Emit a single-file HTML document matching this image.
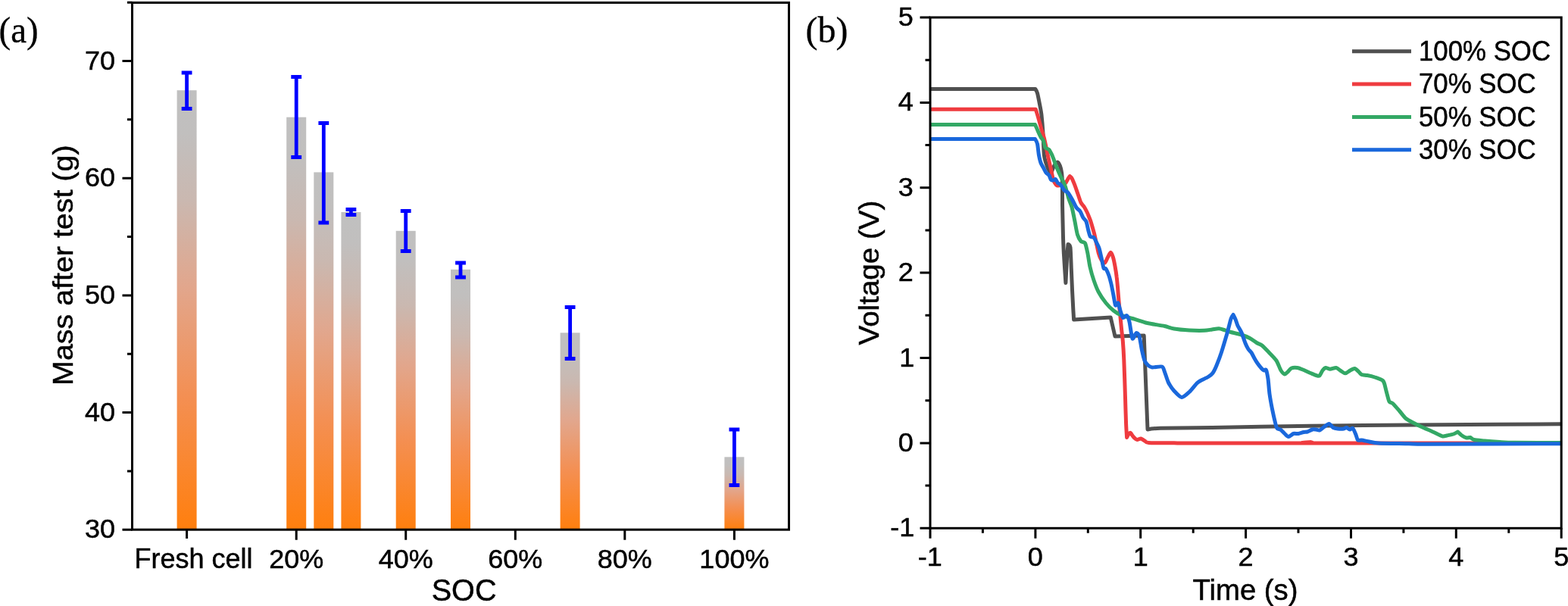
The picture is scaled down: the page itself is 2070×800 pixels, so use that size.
<!DOCTYPE html>
<html lang="en">
<head>
<meta charset="utf-8">
<title>Figure</title>
<style>
html,body{margin:0;padding:0;background:#fff;}
body{width:2070px;height:800px;overflow:hidden;}
svg{display:block;}
.s{font-family:"Liberation Sans", sans-serif;fill:#000;stroke:#000;stroke-width:0.5;}
.f{font-family:"Liberation Serif", serif;fill:#000;stroke:#000;stroke-width:0.3;}
.ax{stroke:#000;stroke-width:3;fill:none;stroke-linecap:butt;}
.ln{fill:none;stroke-width:5;stroke-linejoin:round;stroke-linecap:butt;}
.eb{stroke:#0000ff;stroke-width:4.8;fill:none;}
</style>
</head>
<body>
<svg role="img" aria-label="Mass after test versus SOC, and voltage versus time" width="2070" height="800" viewBox="0 0 2070 800">
<defs>
<linearGradient id="g" x1="0" y1="0" x2="0" y2="1">
<stop offset="0" stop-color="#c0c0c0"/>
<stop offset="0.1" stop-color="#c1bfbe"/>
<stop offset="0.25" stop-color="#cab8b0"/>
<stop offset="0.45" stop-color="#e2a68c"/>
<stop offset="0.7" stop-color="#f48f52"/>
<stop offset="1" stop-color="#ff7f0e"/>
</linearGradient>
</defs>
<rect width="2070" height="800" fill="#fff"/>
<g id="chart-a">
<rect x="233.6" y="119.2" width="26.0" height="580.0" fill="url(#g)"/>
<rect x="378.2" y="154.7" width="26.0" height="544.5" fill="url(#g)"/>
<rect x="414.3" y="227.4" width="26.0" height="471.8" fill="url(#g)"/>
<rect x="450.4" y="280.0" width="26.0" height="419.2" fill="url(#g)"/>
<rect x="522.7" y="304.8" width="26.0" height="394.4" fill="url(#g)"/>
<rect x="595.0" y="355.8" width="26.0" height="343.4" fill="url(#g)"/>
<rect x="739.6" y="439.3" width="26.0" height="259.9" fill="url(#g)"/>
<rect x="956.4" y="603.3" width="26.0" height="95.9" fill="url(#g)"/>
<path class="eb" d="M246.6,96.0 V143.5 M239.7,96.0 H253.5 M239.7,143.5 H253.5"/>
<path class="eb" d="M391.2,101.5 V207.5 M384.3,101.5 H398.1 M384.3,207.5 H398.1"/>
<path class="eb" d="M427.3,162.5 V294.0 M420.4,162.5 H434.2 M420.4,294.0 H434.2"/>
<path class="eb" d="M463.4,276.5 V283.5 M456.5,276.5 H470.3 M456.5,283.5 H470.3"/>
<path class="eb" d="M535.7,278.5 V331.5 M528.8,278.5 H542.6 M528.8,331.5 H542.6"/>
<path class="eb" d="M608.0,347.0 V366.0 M601.1,347.0 H614.9 M601.1,366.0 H614.9"/>
<path class="eb" d="M752.6,405.5 V473.5 M745.7,405.5 H759.5 M745.7,473.5 H759.5"/>
<path class="eb" d="M969.4,567.0 V640.5 M962.5,567.0 H976.3 M962.5,640.5 H976.3"/>
<rect class="ax" x="174.5" y="3.5" width="867.0" height="695.7"/>
<path class="ax" d="M174.5,699.2 H161.5 M174.5,621.9 H168.0 M174.5,544.5 H161.5 M174.5,467.2 H168.0 M174.5,389.9 H161.5 M174.5,312.5 H168.0 M174.5,235.2 H161.5 M174.5,157.8 H168.0 M174.5,80.5 H161.5 M174.5,3.2 H168.0 M246.6,699.2 V711.0 M391.2,699.2 V712.7 M535.7,699.2 V712.7 M680.3,699.2 V712.7 M824.8,699.2 V712.7 M969.4,699.2 V712.7"/>
<text class="s" transform="translate(152.00,710.30) scale(1.0141,1)" font-size="35.5" text-anchor="end">30</text>
<text class="s" transform="translate(152.00,555.63) scale(1.0141,1)" font-size="35.5" text-anchor="end">40</text>
<text class="s" transform="translate(152.00,400.95) scale(1.0141,1)" font-size="35.5" text-anchor="end">50</text>
<text class="s" transform="translate(152.00,246.28) scale(1.0141,1)" font-size="35.5" text-anchor="end">60</text>
<text class="s" transform="translate(152.00,91.60) scale(1.0141,1)" font-size="35.5" text-anchor="end">70</text>
<text class="s" transform="translate(255.50,750.40) scale(0.9917,1)" font-size="36.3" text-anchor="middle">Fresh cell</text>
<text class="s" transform="translate(391.16,750.40) scale(1.0084,1)" font-size="35.7" text-anchor="middle">20%</text>
<text class="s" transform="translate(535.72,750.40) scale(1.0084,1)" font-size="35.7" text-anchor="middle">40%</text>
<text class="s" transform="translate(680.28,750.40) scale(1.0084,1)" font-size="35.7" text-anchor="middle">60%</text>
<text class="s" transform="translate(824.84,750.40) scale(1.0084,1)" font-size="35.7" text-anchor="middle">80%</text>
<text class="s" transform="translate(969.40,750.40) scale(1.0084,1)" font-size="35.7" text-anchor="middle">100%</text>
<text class="s" transform="translate(612.60,793.00) scale(0.9588,1)" font-size="41.3" text-anchor="middle">SOC</text>
<text class="s" transform="translate(95.70,350.20) rotate(-90) scale(1.0479,1)" font-size="37.6" text-anchor="middle">Mass after test (g)</text>
<text class="f" transform="translate(-1.50,55.60) scale(0.9691,1)" font-size="48.5" text-anchor="start">(a)</text>
</g>
<g id="chart-b">
<clipPath id="cb"><rect x="1228.0" y="23.0" width="833.2" height="674.3"/></clipPath>
<g clip-path="url(#cb)">
<path class="ln" stroke="#505050" d="M1226.0,117.5 L1366.8,117.5 C1366.8,117.5 1368.8,120.5 1369.5,123.0 C1370.2,125.5 1371.8,133.9 1372.5,137.5 C1373.2,141.1 1374.5,147.3 1375.0,152.0 C1375.5,156.7 1376.6,170.0 1376.9,175.0 C1377.2,180.0 1377.4,188.2 1377.6,192.0 C1377.8,195.8 1378.1,202.4 1378.4,205.0 C1378.7,207.6 1379.5,210.8 1380.0,212.5 C1380.5,214.2 1381.5,217.1 1382.0,218.5 C1382.5,219.9 1383.3,222.3 1384.0,223.5 C1384.7,224.7 1386.8,228.1 1387.5,228.0 C1388.2,227.9 1389.3,223.9 1390.0,222.5 C1390.7,221.1 1392.2,217.6 1393.0,216.5 C1393.8,215.4 1395.4,213.7 1396.2,214.0 C1397.0,214.3 1398.7,217.2 1399.4,219.0 C1400.1,220.8 1401.2,225.1 1401.6,228.0 C1402.0,230.9 1402.3,236.8 1402.4,242.0 C1402.5,247.2 1402.5,270.0 1402.5,270.0 C1402.5,270.0 1403.2,301.9 1403.4,310.0 C1403.6,318.1 1404.0,327.1 1404.4,335.0 C1404.8,342.9 1406.9,373.5 1406.9,373.5 C1406.9,373.5 1408.2,346.4 1408.6,340.0 C1409.0,333.6 1410.0,322.5 1410.0,322.5 C1410.0,322.5 1412.5,322.4 1413.0,326.5 C1413.5,330.6 1414.0,347.7 1414.3,355.0 C1414.6,362.3 1415.3,378.1 1415.6,385.0 C1415.9,391.9 1416.7,405.4 1416.9,410.0 C1417.2,414.6 1417.6,422.0 1417.6,422.0 L1466.2,419.0 L1472.0,444.0 C1472.0,444.0 1485.2,443.6 1490.0,443.5 C1494.8,443.4 1510.2,443.0 1510.2,443.0 C1510.2,443.0 1512.0,489.5 1512.6,505.0 C1513.2,520.5 1515.0,567.0 1515.0,567.0 C1515.0,567.0 1521.4,565.6 1532.0,565.3 C1542.6,565.0 1575.2,564.8 1600.0,564.4 C1624.8,564.0 1705.0,562.6 1730.0,562.3 C1755.0,561.9 1778.8,561.8 1800.0,561.6 C1821.2,561.4 1867.1,560.9 1900.0,560.7 C1932.9,560.5 2063.0,559.7 2063.0,559.7"/>
<path class="ln" stroke="#ef3b3f" d="M1226.0,144.2 L1367.3,144.2 C1367.3,144.2 1369.6,151.7 1370.6,155.0 C1371.6,158.3 1374.0,167.6 1375.0,171.0 C1376.0,174.4 1377.5,179.0 1378.3,182.0 C1379.1,185.0 1380.5,191.8 1381.2,195.0 C1381.9,198.2 1383.0,203.9 1383.8,207.5 C1384.6,211.1 1386.7,220.0 1387.5,223.5 C1388.3,227.0 1389.4,233.2 1390.0,235.5 C1390.6,237.8 1391.8,240.3 1392.5,241.5 C1393.2,242.7 1394.7,244.6 1395.6,245.0 C1396.5,245.4 1398.3,244.8 1399.5,244.5 C1400.7,244.2 1404.0,243.5 1405.0,243.0 C1406.0,242.5 1406.9,241.4 1407.5,240.5 C1408.1,239.6 1409.4,237.0 1410.0,236.0 C1410.6,235.0 1412.4,232.6 1412.4,232.6 C1412.4,232.6 1414.2,234.0 1414.8,235.0 C1415.4,236.0 1416.6,238.9 1417.3,240.5 C1418.0,242.1 1419.2,245.2 1420.0,247.5 C1420.8,249.8 1422.9,256.0 1423.8,258.5 C1424.7,261.0 1426.0,265.6 1427.0,267.5 C1428.0,269.4 1430.5,271.9 1431.5,273.5 C1432.5,275.1 1434.2,278.4 1435.0,280.0 C1435.8,281.6 1436.9,284.4 1437.5,286.0 C1438.1,287.6 1439.4,290.6 1440.0,292.5 C1440.6,294.4 1441.9,298.8 1442.5,301.0 C1443.1,303.2 1444.3,307.1 1445.0,310.0 C1445.7,312.9 1447.3,321.0 1448.0,324.0 C1448.7,327.0 1449.5,331.6 1450.2,334.0 C1450.9,336.4 1452.8,341.4 1453.8,343.0 C1454.8,344.6 1457.4,347.4 1458.5,347.0 C1459.6,346.6 1461.5,341.2 1462.5,339.5 C1463.5,337.8 1465.3,333.2 1466.2,333.2 C1467.1,333.2 1468.7,337.2 1469.4,339.5 C1470.1,341.8 1471.4,348.2 1472.0,351.5 C1472.6,354.8 1473.8,362.4 1474.2,366.0 C1474.7,369.6 1475.2,376.1 1475.6,380.0 C1475.9,383.9 1476.6,393.0 1477.0,397.5 C1477.4,402.0 1478.3,411.3 1478.8,416.0 C1479.2,420.7 1480.2,430.8 1480.6,435.0 C1481.0,439.2 1481.9,445.0 1482.3,450.0 C1482.7,455.0 1483.4,465.6 1483.8,475.0 C1484.2,484.4 1485.2,514.4 1485.5,525.0 C1485.8,535.6 1486.3,553.4 1486.6,560.0 C1486.9,566.6 1487.6,577.5 1487.6,577.5 C1487.6,577.5 1489.4,573.8 1490.0,573.0 C1490.6,572.2 1491.9,571.2 1492.5,571.5 C1493.1,571.8 1494.4,574.2 1495.0,575.0 C1495.6,575.8 1496.7,577.3 1497.5,578.0 C1498.3,578.7 1500.1,580.5 1501.2,580.6 C1502.3,580.7 1505.0,578.8 1506.2,579.0 C1507.5,579.2 1509.9,581.3 1511.2,582.0 C1512.5,582.7 1511.7,584.1 1516.5,584.5 C1521.3,584.9 1542.7,584.7 1550.0,584.8 C1557.3,584.9 1553.5,585.0 1575.0,585.0 C1596.5,585.0 1702.6,585.2 1722.0,585.0 C1741.4,584.8 1727.8,583.6 1730.0,583.6 C1732.2,583.6 1698.4,584.8 1740.0,585.0 C1781.6,585.2 2063.0,585.0 2063.0,585.0"/>
<path class="ln" stroke="#33a865" d="M1226.0,164.6 L1366.5,164.6 C1366.5,164.6 1369.1,170.4 1370.0,172.5 C1370.9,174.6 1373.1,179.3 1374.0,181.0 C1374.9,182.7 1376.8,184.2 1377.5,186.0 C1378.2,187.8 1379.1,193.6 1380.0,195.0 C1380.9,196.4 1383.9,196.2 1385.0,197.5 C1386.1,198.8 1388.1,203.1 1389.0,205.0 C1389.9,206.9 1391.2,211.0 1392.0,213.0 C1392.8,215.0 1394.0,218.6 1395.0,221.0 C1396.0,223.4 1398.6,229.5 1400.0,232.5 C1401.4,235.5 1404.6,241.2 1406.0,245.0 C1407.4,248.8 1409.9,258.9 1411.0,262.5 C1412.1,266.1 1414.0,269.8 1415.0,273.5 C1416.0,277.2 1418.1,287.9 1419.0,292.5 C1419.9,297.1 1421.5,306.8 1422.5,310.0 C1423.5,313.2 1425.8,317.1 1427.0,318.5 C1428.2,319.9 1431.4,318.9 1432.5,321.0 C1433.6,323.1 1435.2,331.1 1436.0,335.0 C1436.8,338.9 1438.0,348.1 1439.0,352.5 C1440.0,356.9 1442.6,365.9 1444.0,370.0 C1445.4,374.1 1448.0,381.2 1450.0,385.0 C1452.0,388.8 1457.5,396.9 1460.0,400.0 C1462.5,403.1 1467.5,408.0 1470.0,410.0 C1472.5,412.0 1476.9,414.7 1480.0,416.0 C1483.1,417.3 1490.9,419.2 1495.0,420.5 C1499.1,421.8 1509.4,425.1 1512.5,426.0 C1515.6,426.9 1516.9,426.9 1520.0,427.5 C1523.1,428.1 1533.8,429.7 1537.5,430.5 C1541.2,431.3 1545.9,433.3 1550.0,434.0 C1554.1,434.7 1565.0,435.7 1570.0,436.0 C1575.0,436.3 1586.2,436.4 1590.0,436.3 C1593.8,436.2 1597.6,435.3 1600.0,435.0 C1602.4,434.7 1607.0,433.7 1609.0,433.8 C1611.0,433.9 1614.0,434.9 1616.0,435.5 C1618.0,436.1 1622.3,437.8 1625.0,438.5 C1627.7,439.2 1634.4,440.5 1637.5,441.5 C1640.6,442.5 1647.3,445.1 1650.0,446.5 C1652.7,447.9 1657.0,451.3 1659.0,452.5 C1661.0,453.7 1664.0,454.4 1666.0,456.0 C1668.0,457.6 1672.6,462.5 1675.0,465.0 C1677.4,467.5 1683.0,473.0 1685.0,476.0 C1687.0,479.0 1689.6,486.8 1691.0,489.0 C1692.4,491.2 1694.9,493.8 1696.0,494.0 C1697.1,494.2 1698.9,492.0 1700.0,491.0 C1701.1,490.0 1703.4,486.7 1705.0,486.0 C1706.6,485.3 1710.6,485.2 1712.5,485.5 C1714.4,485.8 1717.8,487.1 1720.0,488.0 C1722.2,488.9 1727.8,491.6 1730.0,492.5 C1732.2,493.4 1736.0,495.1 1737.5,495.5 C1739.0,495.9 1740.9,496.8 1742.0,496.0 C1743.1,495.2 1745.0,490.3 1746.0,489.0 C1747.0,487.7 1748.8,485.7 1750.0,485.5 C1751.2,485.3 1754.2,487.3 1756.0,487.3 C1757.8,487.3 1762.2,485.2 1764.0,485.5 C1765.8,485.8 1768.5,488.6 1770.0,489.5 C1771.5,490.4 1774.4,492.9 1776.0,492.8 C1777.6,492.7 1780.9,489.8 1782.5,489.0 C1784.1,488.2 1787.1,486.2 1788.5,486.5 C1789.9,486.8 1792.9,490.0 1794.0,491.0 C1795.1,492.0 1796.1,493.9 1797.5,494.5 C1798.9,495.1 1802.8,495.1 1805.0,495.5 C1807.2,495.9 1812.4,497.1 1815.0,498.0 C1817.6,498.9 1824.1,500.8 1826.0,503.0 C1827.9,505.2 1829.0,512.6 1830.0,516.0 C1831.0,519.4 1832.9,527.9 1834.0,530.0 C1835.1,532.1 1836.8,530.9 1838.5,532.5 C1840.2,534.1 1845.3,540.0 1847.5,542.5 C1849.7,545.0 1853.5,550.4 1856.0,552.5 C1858.5,554.6 1864.5,557.4 1867.5,559.0 C1870.5,560.6 1876.9,563.6 1880.0,565.0 C1883.1,566.4 1889.5,569.1 1892.5,570.5 C1895.5,571.9 1901.8,575.2 1904.0,575.8 C1906.2,576.4 1908.1,575.4 1910.0,575.0 C1911.9,574.6 1917.2,573.6 1919.0,573.0 C1920.8,572.4 1924.5,570.0 1924.5,570.0 C1924.5,570.0 1928.6,574.0 1930.0,575.0 C1931.4,576.0 1934.6,577.7 1936.0,578.0 C1937.4,578.3 1939.8,577.2 1941.0,577.5 C1942.2,577.8 1943.6,579.9 1946.0,580.5 C1948.4,581.1 1955.8,581.6 1960.0,582.0 C1964.2,582.4 1975.0,583.2 1980.0,583.5 C1985.0,583.8 1989.6,584.2 2000.0,584.3 C2010.4,584.4 2063.0,584.5 2063.0,584.5"/>
<path class="ln" stroke="#1a68dc" d="M1226.0,183.5 L1366.5,183.5 C1366.5,183.5 1368.9,187.3 1369.5,190.0 C1370.1,192.7 1370.9,201.9 1371.5,205.0 C1372.1,208.1 1373.2,212.9 1374.0,215.0 C1374.8,217.1 1376.6,219.9 1377.5,221.5 C1378.4,223.1 1380.1,226.8 1381.0,228.0 C1381.9,229.2 1384.2,230.4 1385.0,231.5 C1385.8,232.6 1386.6,236.2 1387.3,237.0 C1388.0,237.8 1389.7,238.1 1390.5,238.0 C1391.3,237.9 1392.9,236.2 1393.6,236.6 C1394.3,237.0 1395.5,240.4 1396.3,241.3 C1397.1,242.2 1399.2,243.0 1400.0,243.8 C1400.8,244.6 1401.9,246.6 1402.5,247.5 C1403.1,248.4 1404.1,250.4 1405.0,251.3 C1405.9,252.2 1408.8,253.1 1410.0,254.5 C1411.2,255.9 1413.6,260.1 1415.0,262.5 C1416.4,264.9 1419.6,271.9 1421.0,274.0 C1422.4,276.1 1424.9,277.3 1426.0,279.0 C1427.1,280.7 1429.0,285.8 1430.0,287.5 C1431.0,289.2 1433.1,290.3 1434.0,292.5 C1434.9,294.7 1436.3,302.5 1437.0,305.0 C1437.7,307.5 1438.6,311.4 1439.5,312.5 C1440.4,313.6 1443.0,312.6 1444.0,313.5 C1445.0,314.4 1446.6,318.2 1447.5,320.0 C1448.4,321.8 1450.2,325.0 1451.0,327.5 C1451.8,330.0 1453.2,336.7 1454.0,340.0 C1454.8,343.3 1456.2,352.1 1457.0,354.0 C1457.8,355.9 1459.1,353.8 1460.0,355.0 C1460.9,356.2 1463.1,361.5 1464.0,364.0 C1464.9,366.5 1466.2,371.8 1467.0,375.0 C1467.8,378.2 1469.3,386.5 1470.0,390.0 C1470.7,393.5 1471.8,401.8 1472.5,403.0 C1473.2,404.2 1475.2,399.1 1476.0,400.0 C1476.8,400.9 1478.2,407.6 1479.0,410.0 C1479.8,412.4 1481.4,418.7 1482.5,419.5 C1483.6,420.3 1486.4,415.8 1487.5,416.5 C1488.6,417.2 1490.1,421.2 1491.0,425.0 C1491.9,428.8 1493.9,445.2 1495.0,447.0 C1496.1,448.8 1498.9,439.9 1500.0,439.5 C1501.1,439.1 1503.1,440.6 1504.0,443.5 C1504.9,446.4 1506.6,458.4 1507.5,462.5 C1508.4,466.6 1509.9,473.5 1511.0,476.0 C1512.1,478.5 1514.8,481.4 1516.0,482.5 C1517.2,483.6 1518.8,484.8 1521.0,485.0 C1523.2,485.2 1531.9,483.2 1534.0,484.0 C1536.1,484.8 1536.4,488.4 1537.5,491.0 C1538.6,493.6 1540.9,501.9 1542.5,505.0 C1544.1,508.1 1547.8,513.6 1550.0,516.0 C1552.2,518.4 1557.5,524.3 1560.0,524.5 C1562.5,524.7 1567.5,519.8 1570.0,517.5 C1572.5,515.2 1578.1,507.9 1580.0,506.0 C1581.9,504.1 1583.1,503.6 1585.0,502.5 C1586.9,501.4 1593.0,498.8 1595.0,497.5 C1597.0,496.2 1599.6,494.4 1601.0,492.5 C1602.4,490.6 1604.6,485.9 1606.0,482.5 C1607.4,479.1 1610.8,470.3 1612.5,465.0 C1614.2,459.7 1618.4,445.5 1620.0,440.0 C1621.6,434.5 1624.0,424.1 1625.0,421.0 C1626.0,417.9 1628.0,415.5 1628.0,415.5 C1628.0,415.5 1630.2,419.7 1631.0,421.5 C1631.8,423.3 1633.0,427.8 1634.0,430.0 C1635.0,432.2 1637.8,436.1 1639.0,439.0 C1640.2,441.9 1642.9,450.2 1644.0,453.0 C1645.1,455.8 1647.0,459.4 1648.0,461.0 C1649.0,462.6 1651.0,464.0 1652.0,465.5 C1653.0,467.0 1655.0,471.2 1656.0,473.0 C1657.0,474.8 1658.8,477.8 1660.0,479.5 C1661.2,481.2 1664.9,485.8 1666.0,487.0 C1667.1,488.2 1668.3,488.8 1669.0,489.0 C1669.7,489.2 1670.9,487.1 1671.5,488.5 C1672.1,489.9 1673.4,496.1 1674.0,500.0 C1674.6,503.9 1675.3,515.0 1676.0,520.0 C1676.7,525.0 1678.5,535.0 1679.5,540.0 C1680.5,545.0 1683.2,556.8 1684.0,560.0 C1684.8,563.2 1685.1,564.6 1686.0,565.5 C1686.9,566.4 1689.8,566.6 1691.0,567.5 C1692.2,568.4 1694.8,571.4 1696.0,572.5 C1697.2,573.6 1699.6,576.5 1701.0,576.5 C1702.4,576.5 1705.9,573.0 1707.5,572.5 C1709.1,572.0 1712.3,572.8 1714.0,572.5 C1715.7,572.2 1719.5,570.8 1721.0,570.5 C1722.5,570.2 1724.6,570.4 1726.0,570.0 C1727.4,569.6 1731.1,567.4 1732.5,567.0 C1733.9,566.6 1735.8,566.9 1737.0,567.0 C1738.2,567.1 1740.7,568.4 1742.0,568.0 C1743.3,567.6 1745.9,565.1 1747.5,564.0 C1749.1,562.9 1752.9,559.4 1754.5,559.5 C1756.1,559.6 1758.6,563.7 1760.0,564.5 C1761.4,565.3 1764.2,565.8 1766.0,566.0 C1767.8,566.2 1772.6,566.2 1774.0,566.0 C1775.4,565.8 1776.5,564.4 1777.5,564.5 C1778.5,564.6 1780.9,566.9 1782.0,567.0 C1783.1,567.1 1785.0,564.6 1786.0,565.5 C1787.0,566.4 1789.2,572.1 1790.0,574.0 C1790.8,575.9 1791.6,580.1 1792.5,581.0 C1793.4,581.9 1795.6,580.8 1797.5,581.0 C1799.4,581.2 1804.7,582.5 1807.5,583.0 C1810.3,583.5 1813.4,584.6 1820.0,585.0 C1826.6,585.4 1851.9,585.6 1860.0,585.8 C1868.1,585.9 1859.6,586.2 1885.0,586.2 C1910.4,586.2 2063.0,585.7 2063.0,585.7"/>
</g>
<rect class="ax" x="1228.0" y="23.0" width="833.2" height="674.3"/>
<path class="ax" d="M1228.0,697.3 H1214.5 M1228.0,697.3 V710.8 M1228.0,641.1 H1221.5 M1297.4,697.3 V703.8 M1228.0,584.9 H1214.5 M1366.9,697.3 V710.8 M1228.0,528.7 H1221.5 M1436.3,697.3 V703.8 M1228.0,472.5 H1214.5 M1505.7,697.3 V710.8 M1228.0,416.3 H1221.5 M1575.2,697.3 V703.8 M1228.0,360.1 H1214.5 M1644.6,697.3 V710.8 M1228.0,304.0 H1221.5 M1714.0,697.3 V703.8 M1228.0,247.8 H1214.5 M1783.5,697.3 V710.8 M1228.0,191.6 H1221.5 M1852.9,697.3 V703.8 M1228.0,135.4 H1214.5 M1922.3,697.3 V710.8 M1228.0,79.2 H1221.5 M1991.8,697.3 V703.8 M1228.0,23.0 H1214.5 M2061.2,697.3 V710.8"/>
<text class="s" transform="translate(1207.30,708.40) scale(1.0141,1)" font-size="35.5" text-anchor="end">-1</text>
<text class="s" transform="translate(1227.70,747.30) scale(1.0141,1)" font-size="35.5" text-anchor="middle">-1</text>
<text class="s" transform="translate(1205.80,596.02) scale(1.0141,1)" font-size="35.5" text-anchor="end">0</text>
<text class="s" transform="translate(1366.87,747.30) scale(1.0141,1)" font-size="35.5" text-anchor="middle">0</text>
<text class="s" transform="translate(1207.30,483.63) scale(1.0141,1)" font-size="35.5" text-anchor="end">1</text>
<text class="s" transform="translate(1505.73,747.30) scale(1.0141,1)" font-size="35.5" text-anchor="middle">1</text>
<text class="s" transform="translate(1205.80,371.25) scale(1.0141,1)" font-size="35.5" text-anchor="end">2</text>
<text class="s" transform="translate(1644.60,747.30) scale(1.0141,1)" font-size="35.5" text-anchor="middle">2</text>
<text class="s" transform="translate(1205.80,258.87) scale(1.0141,1)" font-size="35.5" text-anchor="end">3</text>
<text class="s" transform="translate(1783.47,747.30) scale(1.0141,1)" font-size="35.5" text-anchor="middle">3</text>
<text class="s" transform="translate(1205.80,146.48) scale(1.0141,1)" font-size="35.5" text-anchor="end">4</text>
<text class="s" transform="translate(1922.33,747.30) scale(1.0141,1)" font-size="35.5" text-anchor="middle">4</text>
<text class="s" transform="translate(1205.80,34.10) scale(1.0141,1)" font-size="35.5" text-anchor="end">5</text>
<text class="s" transform="translate(2061.20,747.30) scale(1.0141,1)" font-size="35.5" text-anchor="middle">5</text>
<text class="s" transform="translate(1644.00,792.10)" font-size="38.3" text-anchor="middle">Time (s)</text>
<text class="s" transform="translate(1159.50,360.00) rotate(-90) scale(1.0212,1)" font-size="37.8" text-anchor="middle">Voltage (V)</text>
<text class="f" transform="translate(1063.50,56.10)" font-size="48" text-anchor="start">(b)</text>
<path class="ln" stroke="#505050" d="M1785,67.8 H1863"/>
<text class="s" transform="translate(1873.00,80.20) scale(0.9508,1)" font-size="36.6" text-anchor="start">100% SOC</text>
<path class="ln" stroke="#ef3b3f" d="M1785,111.0 H1863"/>
<text class="s" transform="translate(1873.00,123.40) scale(0.9508,1)" font-size="36.6" text-anchor="start">70% SOC</text>
<path class="ln" stroke="#33a865" d="M1785,154.4 H1863"/>
<text class="s" transform="translate(1873.00,166.80) scale(0.9508,1)" font-size="36.6" text-anchor="start">50% SOC</text>
<path class="ln" stroke="#1a68dc" d="M1785,197.7 H1863"/>
<text class="s" transform="translate(1873.00,210.10) scale(0.9508,1)" font-size="36.6" text-anchor="start">30% SOC</text>
</g>
</svg>
</body>
</html>
